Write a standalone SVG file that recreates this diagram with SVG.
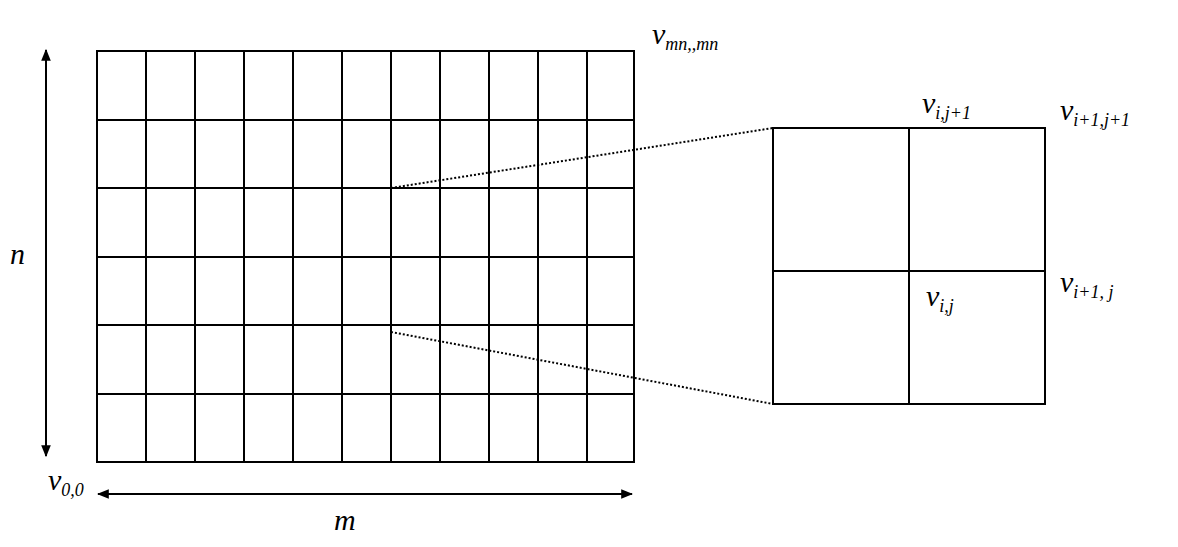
<svg xmlns="http://www.w3.org/2000/svg" width="1178" height="547" viewBox="0 0 1178 547">
<style>
.g{stroke:#000;stroke-width:2;fill:none}
.t{font-family:"Liberation Serif",serif;font-style:italic;fill:#000}
.b{font-size:30px}.s{font-size:18px}
</style>
<defs><marker id="a" viewBox="0 0 10 10" refX="9" refY="5" markerWidth="6" markerHeight="6" orient="auto-start-reverse"><path d="M0,1 L10,5 L0,9 z" fill="#000"/></marker></defs>
<rect width="1178" height="547" fill="#fff"/>
<g id="grid" class="g">
<rect x="97" y="51" width="537" height="411"/>
<path d="M146,51V462M195,51V462M244,51V462M293,51V462M342,51V462M391,51V462M440,51V462M489,51V462M538,51V462M587,51V462M97,120H634M97,188H634M97,257H634M97,325H634M97,394H634"/>
</g>
<g id="zoom" class="g">
<rect x="773" y="128" width="272" height="276"/>
<path d="M909,128V404M773,271H1045"/>
</g>
<g id="connectors" stroke="#000" stroke-width="2" fill="none">
<path d="M391,188L773,128M391,332L773,404" stroke-dasharray="2,2"/>
<path d="M46,50V456" marker-start="url(#a)" marker-end="url(#a)"/>
<path d="M98,494H632" marker-start="url(#a)" marker-end="url(#a)"/>
</g>
<g id="labels">
<text class="t" x="652" y="44"><tspan class="b">v</tspan><tspan class="s" dy="6">mn,,mn</tspan></text>
<text class="t" x="922" y="113"><tspan class="b">v</tspan><tspan class="s" dy="6">i,j+1</tspan></text>
<text class="t" x="1060" y="120"><tspan class="b">v</tspan><tspan class="s" dy="6">i+1,j+1</tspan></text>
<text class="t" x="1060" y="292"><tspan class="b">v</tspan><tspan class="s" dy="6">i+1, j</tspan></text>
<text class="t" x="926" y="306"><tspan class="b">v</tspan><tspan class="s" dy="6">i,j</tspan></text>
<text class="t" x="48" y="490"><tspan class="b">v</tspan><tspan class="s" dy="6">0,0</tspan></text>
<text class="t b" x="10" y="264">n</text>
<text class="t b" x="334" y="530">m</text>
</g>
</svg>
